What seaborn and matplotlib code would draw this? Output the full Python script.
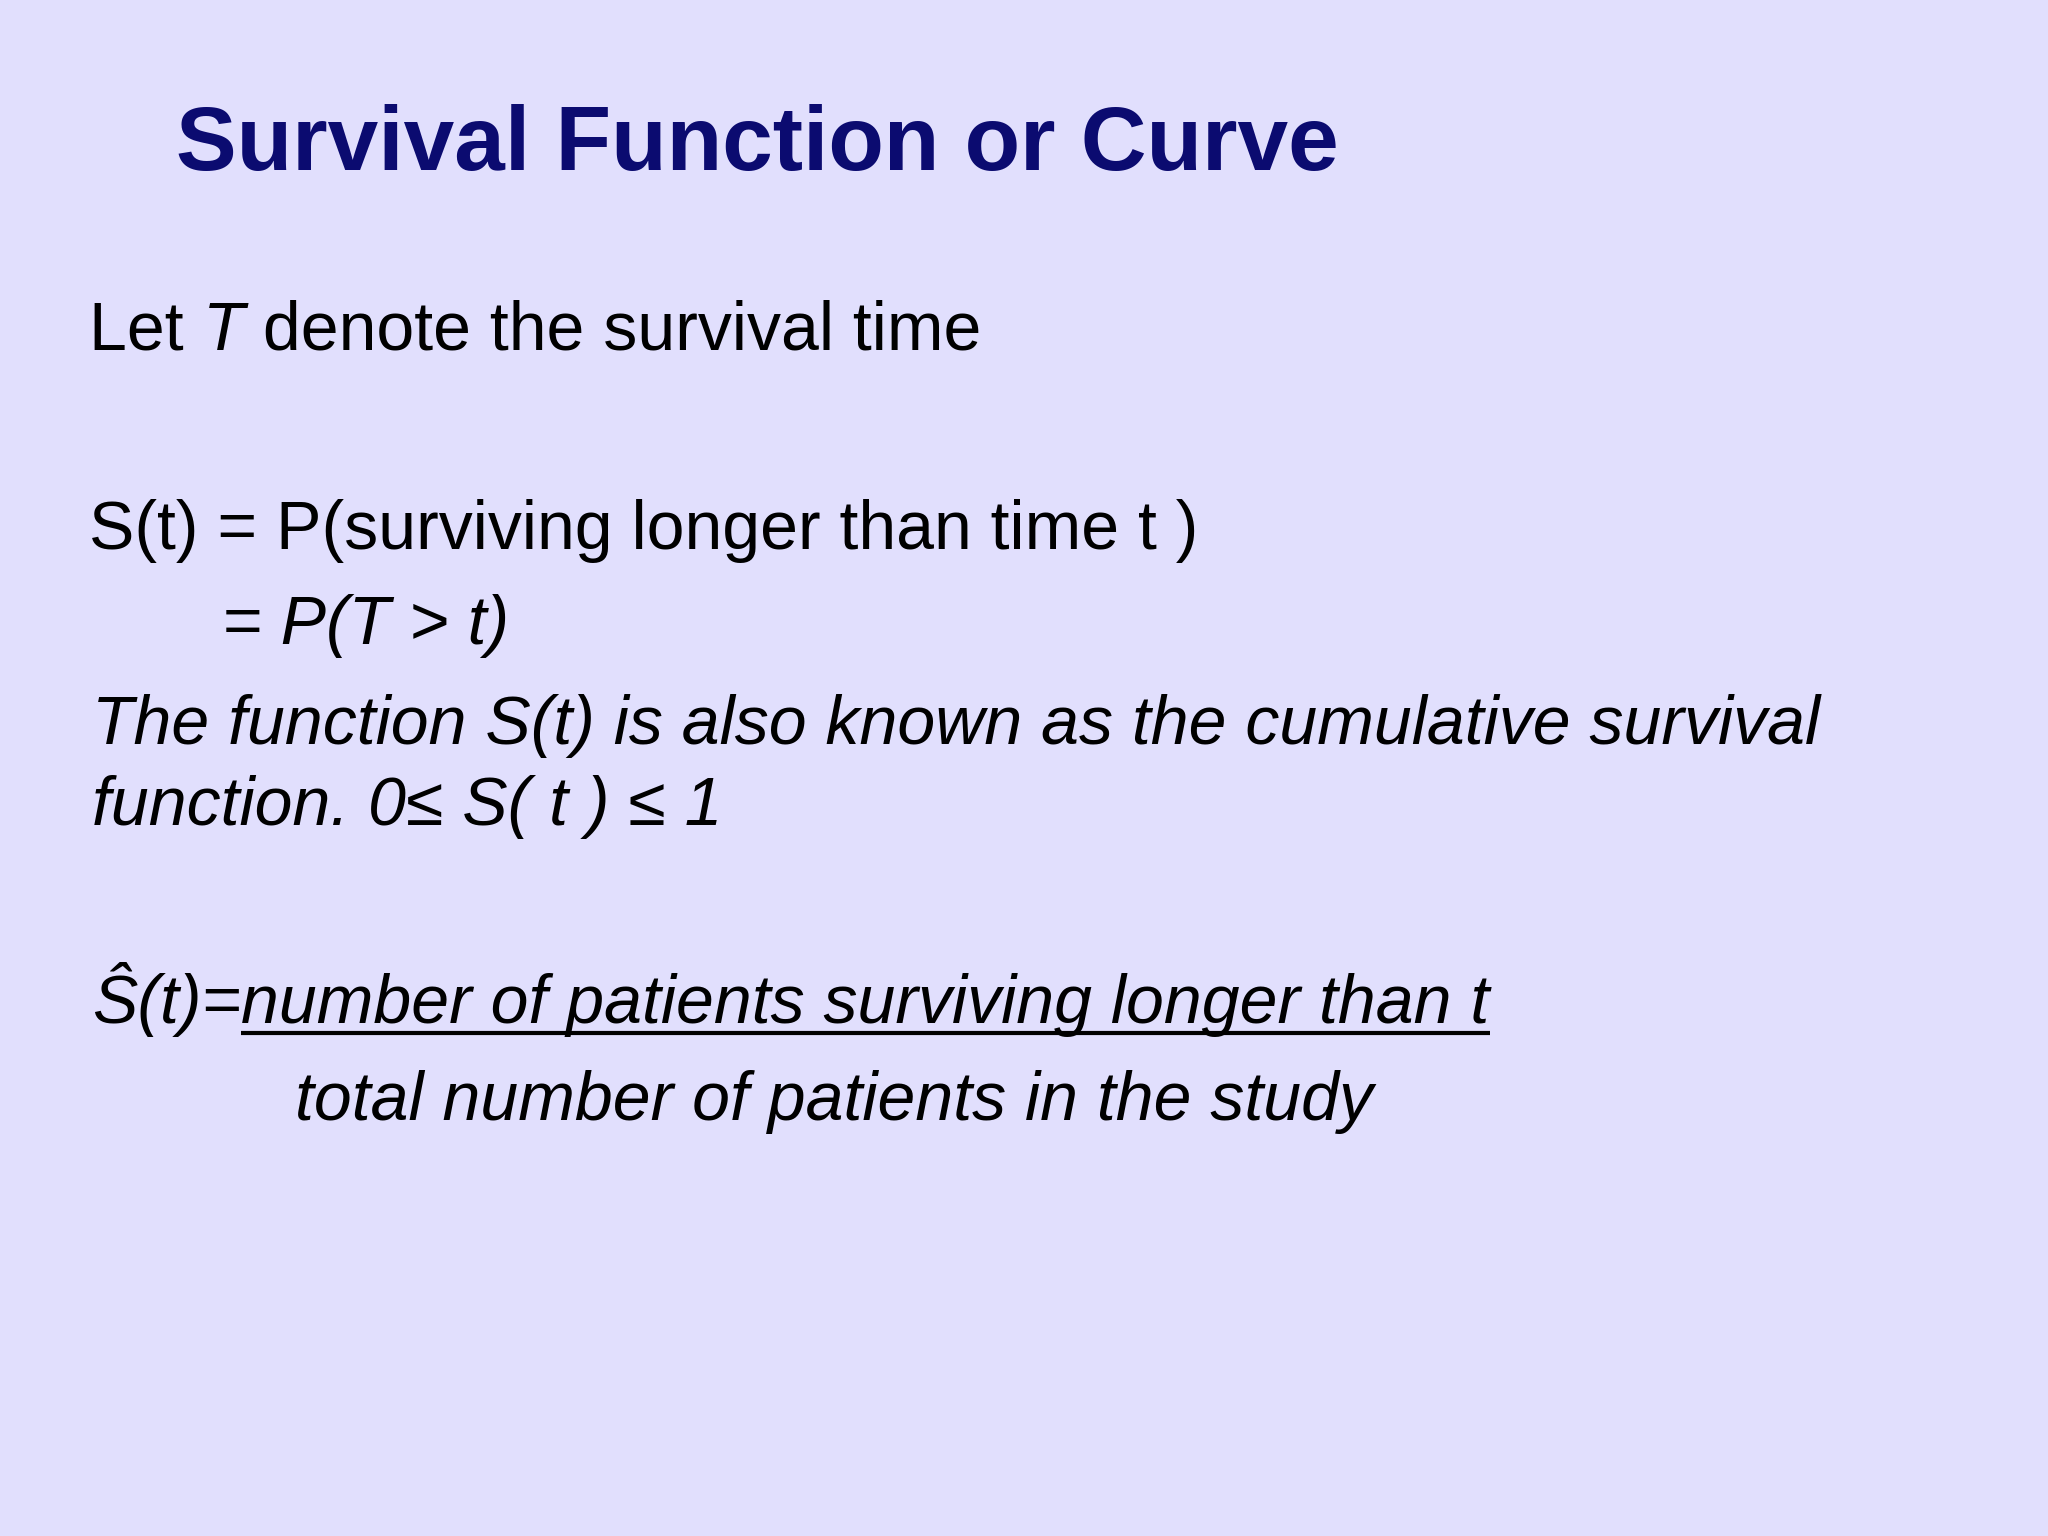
import matplotlib
matplotlib.use("Agg")
import matplotlib.pyplot as plt
import seaborn as sns

# slide text
title = "Survival Function or Curve"
line_let = ["Let ", "T", " denote the survival time"]
line_s = "S(t) = P(surviving longer than time t )"
line_p = "= P(T > t)"
line_func1 = "The function S(t) is also known as the cumulative survival"
line_func2 = "function. 0\u2264 S( t ) \u2264 1"
est_lhs = "\u015c(t)="
est_num = "number of patients surviving longer than t"
est_den = "total number of patients in the study"

sns.set_theme(style="white")
plt.rcParams['font.family'] = ['Liberation Sans', 'DejaVu Sans']

bg = "#E1DFFD"
fig = plt.figure(figsize=(20.48, 15.36), dpi=100, facecolor=bg)
ax = fig.add_axes([0, 0, 1, 1])
ax.set_facecolor(bg)
ax.set_xlim(0, 2048)
ax.set_ylim(1536, 0)
ax.axis("off")

body = 49
renderer = fig.canvas.get_renderer()


def width_of(t):
    bb = t.get_window_extent(renderer=renderer)
    return bb.width


ax.text(176, 170, title, fontsize=65.5, fontweight="bold", color="#0B0B70", va="baseline")

# Let T denote ...
x = 89
for i, part in enumerate(line_let):
    t = ax.text(x, 350, part, fontsize=body, color="black", va="baseline",
                style="italic" if i == 1 else "normal")
    x += width_of(t)

ax.text(89, 549, line_s, fontsize=body, color="black", va="baseline")
ax.text(222, 644, line_p, fontsize=body, color="black", va="baseline", style="italic")
ax.text(92, 744, line_func1, fontsize=body, color="black", va="baseline", style="italic")
ax.text(92, 825, line_func2, fontsize=body, color="black", va="baseline", style="italic")

t = ax.text(92, 1023, est_lhs, fontsize=body, color="black", va="baseline", style="italic")
x0 = 92 + width_of(t)
t2 = ax.text(x0, 1023, est_num, fontsize=body, color="black", va="baseline", style="italic")
x1 = x0 + width_of(t2)
ax.plot([x0, x1], [1033, 1033], color="black", lw=3, solid_capstyle="butt")
ax.text(295, 1120, est_den, fontsize=body, color="black", va="baseline", style="italic")

fig.savefig("out.png", dpi=100, facecolor=bg)
